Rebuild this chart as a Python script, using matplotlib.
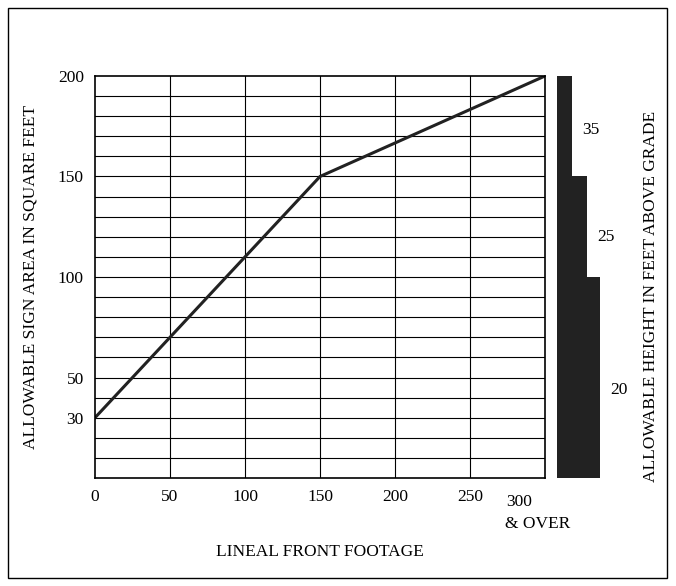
import matplotlib
matplotlib.use("Agg")
import matplotlib.pyplot as plt
from matplotlib.patches import Rectangle

plt.rcParams['font.family'] = ['Liberation Serif', 'DejaVu Serif']

footage = [0, 150, 300]
area = [30, 150, 200]
xticks = [0, 50, 100, 150, 200, 250]
yticks = [30, 50, 100, 150, 200]
band_lo = [0, 100, 150]
band_hi = [100, 150, 200]
band_w = [43, 30, 15]
height_labels = ["20", "25", "35"]
height_pos = [44, 120, 173]

FS = 12.5
fig = plt.figure(figsize=(6.76, 5.86), dpi=100)
fig.patches.append(Rectangle((8/676, 8/586), 659/676, 570/586, transform=fig.transFigure,
                             fill=False, edgecolor='black', lw=1))

ax = fig.add_axes([95/676, 108/586, 450/676, 402/586])
ax.set_xlim(0, 300)
ax.set_ylim(0, 200)
for y in range(10, 200, 10):
    ax.axhline(y, color='black', lw=0.8)
for x in range(50, 300, 50):
    ax.axvline(x, color='black', lw=0.8)
ax.plot(footage, area, color='#222222', lw=2.2, solid_joinstyle='miter')
ax.set_xticks(xticks)
ax.set_yticks(yticks)
ax.tick_params(length=0, labelsize=FS, pad=8)
ax.text(283, -8, "300", ha='center', va='top', fontsize=FS)
ax.text(295, -19, "& OVER", ha='center', va='top', fontsize=FS)
for s in ax.spines.values():
    s.set_linewidth(1.2)
ax.set_xlabel("LINEAL FRONT FOOTAGE", fontsize=FS, labelpad=28)
ax.set_ylabel("ALLOWABLE SIGN AREA IN SQUARE FEET", fontsize=FS, labelpad=14)

ax2 = fig.add_axes([557/676, 108/586, 43/676, 402/586])
ax2.set_xlim(0, 43)
ax2.set_ylim(0, 200)
for lo, hi, w in zip(band_lo, band_hi, band_w):
    ax2.fill_between([0, w], lo, hi, color='#222222', lw=0)
ax2.axis('off')
for lab, p, w in zip(height_labels, height_pos, band_w):
    ax2.text(w + 10, p, lab, fontsize=FS, va='center')
fig.text(651/676, 290/586, "ALLOWABLE HEIGHT IN FEET ABOVE GRADE", rotation=90,
         ha='center', va='center', fontsize=FS)

fig.savefig("out.png", dpi=100)
